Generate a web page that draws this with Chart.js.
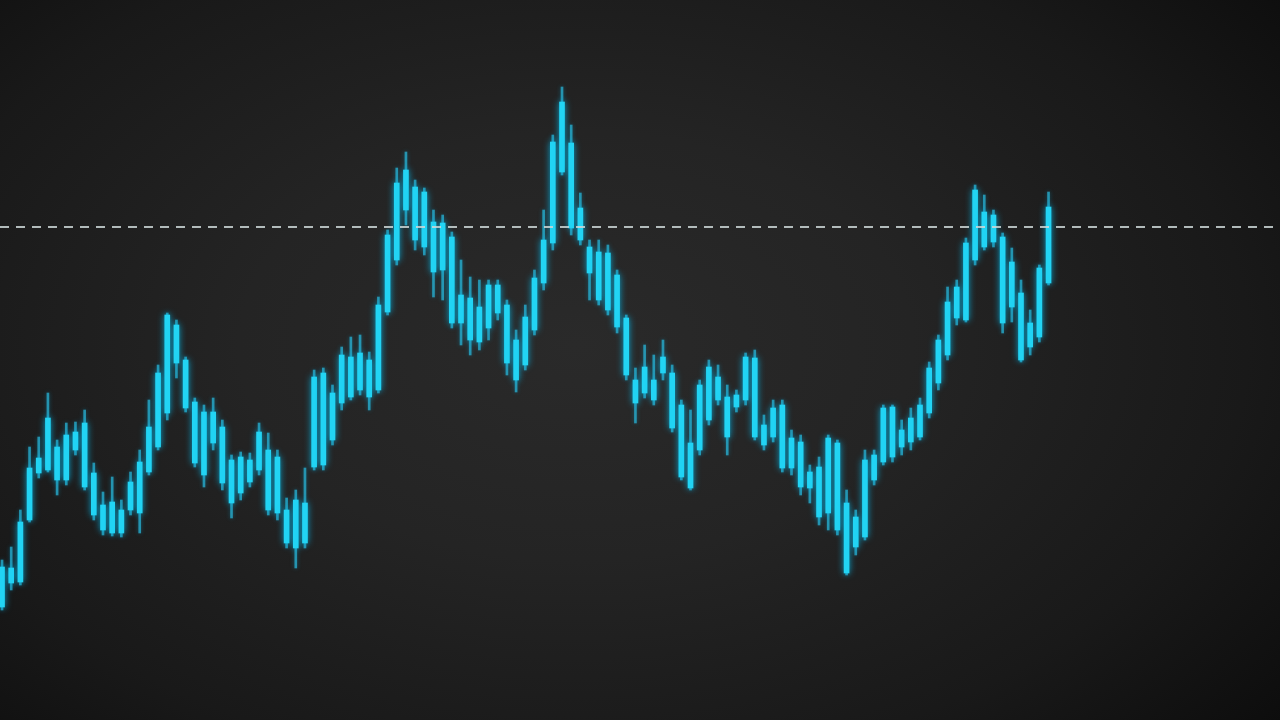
<!DOCTYPE html>
<html>
<head>
<meta charset="utf-8">
<script src="https://cdn.jsdelivr.net/npm/chart.js@4/dist/chart.umd.min.js"></script>
<style>
  html, body { margin: 0; padding: 0; }
  body {
    width: 1280px; height: 720px; overflow: hidden;
    background: radial-gradient(ellipse 75% 85% at 45% 48%, #2a2a2a 0%, #242424 35%, #191919 70%, #0b0b0b 100%);
  }
  #wrap { position: relative; width: 1280px; height: 720px; }
  #candles { display: block; }
</style>
</head>
<body>
<div id="wrap"><canvas id="candles" width="1280" height="720"></canvas></div>
<script>
// candle values (price units, 0 = bottom edge, 720 = top edge)
const opens = [113,137,138,200,247,250,273,240,270,297, 247,215,187,210,210,207,248,273,307,357,
  360,318,308,277,293,260,227,238,250,270, 263,210,172,177,253,255,280,317,323,330,
  360,330,408,460,510,533,528,498,450,483, 425,422,413,392,407,415,380,355,390,437,
  477,548,577,512,473,468,467,445,402,340, 327,340,347,347,315,277,270,300,320,323,
  313,320,362,295,283,315,282,278,248,253, 207,277,217,173,183,240,258,263,290,278,
  283,307,337,365,402,400,460,508,478,483, 458,427,397,383,437];
const closes = [153,152,198,252,262,302,240,285,288,233, 205,190,218,187,238,258,293,347,405,395,
  312,257,245,308,237,217,263,260,288,210, 207,177,220,217,343,347,327,365,363,367,
  323,415,485,537,550,480,473,448,497,397, 397,380,378,435,435,357,340,403,442,480,
  578,618,492,480,447,420,410,393,345,317, 353,320,363,292,243,232,335,353,343,283,
  325,363,283,275,312,252,252,233,232,203, 282,190,147,203,260,265,312,313,273,302,
  315,352,380,418,433,477,530,473,505,397, 413,360,373,452,513];
const highs = [160,173,210,273,283,327,280,297,298,310, 257,228,243,220,248,270,320,355,407,400,
  363,322,315,322,300,265,268,267,297,287, 270,222,230,252,350,352,335,373,383,385,
  368,423,490,552,568,540,532,510,505,488, 460,443,440,440,440,420,390,415,450,510,
  585,633,595,527,480,480,475,450,405,352, 375,365,380,355,320,310,340,360,355,335,
  330,367,370,305,320,320,290,285,255,263, 285,280,230,210,270,270,315,315,300,312,
  322,358,385,433,440,482,535,525,510,487, 472,440,410,455,528];
const lows = [110,130,135,198,242,248,225,235,265,230, 200,185,184,183,205,187,245,270,300,342,
  308,253,233,270,230,202,220,233,245,205, 200,172,152,172,250,250,275,310,320,325,
  310,327,405,455,495,470,465,423,420,392, 375,365,370,380,400,345,328,350,385,430,
  470,545,485,475,420,415,405,387,340,297, 322,315,340,288,240,230,265,295,315,265,
  308,315,280,270,278,248,245,225,217,195, 190,185,145,165,180,235,255,258,265,270,
  280,302,330,360,395,398,455,470,473,387, 398,358,365,378,435];
const resistance = 493;

const bodies = opens.map((o, i) => ({ x: i, y: [o, closes[i]] }));
const wicks = highs.map((h, i) => ({ x: i, y: [lows[i], h] }));

// horizontal scale: about 9.18px per candle, first candle 2px from the left edge
const xMin = -0.22;
const xMax = xMin + 1280 / 9.18;

const glow = {
  id: 'glow',
  beforeDatasetDraw(chart, args) {
    const ctx = chart.ctx;
    ctx.save();
    if (args.index === 1) {
      ctx.shadowColor = 'rgba(0, 200, 255, 0.75)';
      ctx.shadowBlur = 7;
    } else if (args.index === 0) {
      ctx.shadowColor = 'rgba(0, 170, 220, 0.5)';
      ctx.shadowBlur = 4;
    }
  },
  afterDatasetDraw(chart) {
    chart.ctx.restore();
  }
};

new Chart(document.getElementById('candles'), {
  type: 'bar',
  data: {
    datasets: [{
      label: 'Wick',
      data: wicks,
      backgroundColor: 'rgba(40, 180, 215, 0.75)',
      barThickness: 2,
      grouped: false,
      order: 3
    }, {
      label: 'Body',
      data: bodies,
      backgroundColor: '#22d4f4',
      barThickness: 5,
      grouped: false,
      order: 2
    }, {
      type: 'line',
      label: 'Resistance',
      data: [{ x: xMin, y: resistance }, { x: xMax, y: resistance }],
      borderColor: 'rgba(205, 215, 215, 0.85)',
      borderWidth: 2,
      borderDash: [9, 7],
      pointRadius: 0,
      order: 1
    }]
  },
  options: {
    responsive: false,
    animation: false,
    layout: { padding: 0 },
    scales: {
      x: { type: 'linear', min: xMin, max: xMax, offset: false, display: false },
      y: { min: 0, max: 720, display: false }
    },
    plugins: {
      legend: { display: false },
      tooltip: { enabled: false }
    }
  },
  plugins: [glow]
});
</script>
</body>
</html>
